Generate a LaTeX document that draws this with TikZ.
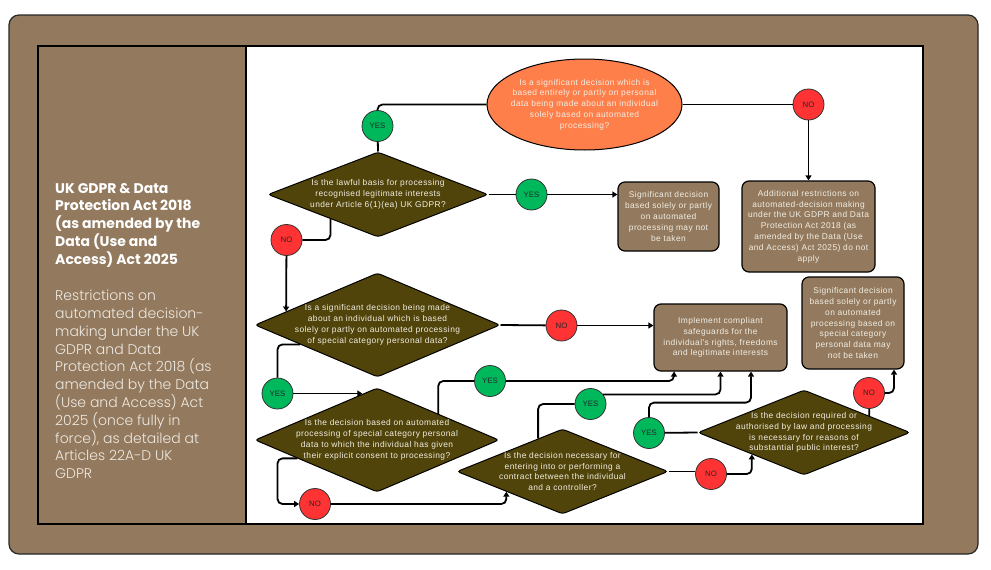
\documentclass[tikz,border=0pt]{standalone}
\usepackage{fontspec}
\usetikzlibrary{shapes.geometric,arrows.meta,calc}
\setmainfont{Liberation Sans}
\newfontfamily\chartfont[LetterSpace=5]{Liberation Sans}
\newfontfamily\circfont{Liberation Sans}
\newfontfamily\titlefont{Poppins}
\newfontfamily\bodyfont{Poppins Light}
\definecolor{framebrown}{RGB}{147,122,94}
\definecolor{olivefill}{RGB}{80,68,10}
\definecolor{coralfill}{RGB}{255,127,75}
\definecolor{yesgreen}{RGB}{0,184,92}
\definecolor{nored}{RGB}{255,51,51}
\definecolor{paletext}{RGB}{242,238,228}
\definecolor{bodytext}{RGB}{238,233,226}
\tikzset{
  conn/.style={line width=1.8pt, rounded corners=5pt, draw=black},
  arr/.style={conn, -{Triangle[length=5pt,width=6pt]}},
  txt/.style={font=\chartfont\fontsize{8.4}{10.8}\selectfont, text=paletext, align=center, inner sep=0pt},
  dia/.style={diamond, draw=black, line width=1pt, fill=olivefill, inner sep=0pt, rounded corners=3pt},
  boxnode/.style={rectangle, draw=black, line width=1.2pt, fill=framebrown, rounded corners=7pt, txt},
  yesnode/.style={circle, draw=black!80, line width=0.8pt, fill=yesgreen, minimum size=31pt, inner sep=0pt, font=\circfont\fontsize{7.8}{8}\selectfont, text=black!85},
  nonode/.style={yesnode, fill=nored},
}
\begin{document}
\begin{tikzpicture}[x=1pt,y=-1pt]
\useasboundingbox (0,0) rectangle (991,570);
% frames
\draw[fill=framebrown, draw=black!85, line width=1.2pt, rounded corners=10pt] (9,15) rectangle (978,554);
\fill[white] (38,46) rectangle (923,524);
\fill[framebrown] (38,46) rectangle (246,524);
\draw[line width=2.5pt] (38,46) rectangle (923,524);
\draw[line width=1.8pt] (246,46) -- (246,524);
% left panel
\node[anchor=north west, inner sep=0pt, align=left, text=white, font=\titlefont\bfseries\fontsize{14}{17.75}\selectfont] (title) at (55,183) {UK GDPR \& Data\\Protection Act 2018\\(as amended by the\\Data (Use and\\Access) Act 2025};
\node[anchor=north west, inner sep=0pt, align=left, text=bodytext, font=\bodyfont\fontsize{14}{17.8}\selectfont] (body) at (55,290) {Restrictions on\\automated decision-\\making under the UK\\GDPR and Data\\Protection Act 2018 (as\\amended by the Data\\(Use and Access) Act\\2025 (once fully in\\force), as detailed at\\Articles 22A-D UK\\GDPR};
% chart nodes
\node[ellipse, draw=black, line width=1pt, fill=coralfill, minimum width=195pt, minimum height=91pt, inner sep=0pt,
  label={[txt]center:{Is a significant decision which is\\based entirely or partly on personal\\data being made about an individual\\solely based on automated\\processing?}}] (e) at (584.5,104.5) {};
\node[yesnode] (y1) at (377.5,126) {YES};
\node[dia, minimum width=220pt, minimum height=85pt,
  label={[txt]center:{Is the lawful basis for processing\\recognised legitimate interests\\under Article 6(1)(ea) UK GDPR?}}] (d1) at (378,194.5) {};
\node[yesnode] (y2) at (531.5,194.5) {YES};
\node[boxnode, minimum width=101pt, minimum height=69pt] (b1) at (668.5,216.5) {Significant decision\\based solely or partly\\on automated\\processing may not\\be taken};
\node[nonode] (n1) at (808.5,104.5) {NO};
\node[boxnode, minimum width=133pt, minimum height=91pt] (b2) at (808.5,226.5) {Additional restrictions on\\automated-decision making\\under the UK GDPR and Data\\Protection Act 2018 (as\\amended by the Data (Use\\and Access) Act 2025) do not\\apply};
\node[nonode] (n2) at (286.5,240) {NO};
\node[dia, minimum width=245pt, minimum height=104pt,
  label={[txt]center:{Is a significant decision being made\\about an individual which is based\\solely or partly on automated processing\\of special category personal data?}}] (d2) at (377.5,325) {};
\node[nonode] (n3) at (561.5,325.5) {NO};
\node[boxnode, minimum width=133pt, minimum height=67pt] (b3) at (720.5,337.5) {Implement compliant\\safeguards for the\\individual's rights, freedoms\\and legitimate interests};
\node[boxnode, minimum width=102pt, minimum height=92pt] (b4) at (853,323) {Significant decision\\based solely or partly\\on automated\\processing based on\\special category\\personal data may\\not be taken};
\node[yesnode] (y3) at (277.5,393.5) {YES};
\node[dia, minimum width=244pt, minimum height=104pt,
  label={[txt]center:{Is the decision based on automated\\processing of special category personal\\data to which the individual has given\\their explicit consent to processing?}}] (d3) at (377,440) {};
\node[yesnode] (y4) at (490,381) {YES};
\node[nonode] (n4) at (315,504) {NO};
\node[dia, minimum width=211pt, minimum height=85pt,
  label={[txt]center:{Is the decision necessary for\\entering into or performing a\\contract between the individual\\and a controller?}}] (d4) at (562.5,471.5) {};
\node[yesnode] (y5) at (590.5,404) {YES};
\node[nonode] (n5) at (711,474) {NO};
\node[dia, minimum width=212pt, minimum height=85pt,
  label={[txt]center:{Is the decision required or\\authorised by law and processing\\is necessary for reasons of\\substantial public interest?}}] (d5) at (804,432.5) {};
\node[yesnode] (y6) at (649,433) {YES};
\node[nonode] (n6) at (869,393) {NO};
% helper coordinates on edges
\coordinate (d1n) at ($(d1.west)!0.57!(d1.south)$);
\coordinate (d2in) at ($(d2.west)!0.257!(d2.north)$);
\coordinate (d2y) at ($(d2.west)!0.37!(d2.south)$);
\coordinate (d3in) at ($(d3.west)!0.88!(d3.north)$);
\coordinate (d3y) at ($(d3.north)!0.5!(d3.east)$);
\coordinate (b3a) at ($(b3.south)+(-46.5,0)$);
\coordinate (d3n) at ($(d3.west)!0.35!(d3.south)$);
\coordinate (d4in) at ($(d4.west)!0.47!(d4.south)$);
\coordinate (d4y) at ($(d4.west)!0.77!(d4.north)$);
\coordinate (b3c) at ($(b3.south)+(30.5,0)$);
\coordinate (b3cbend) at ($(b3c)+(0,31)$);
\coordinate (d5in) at ($(d5.west)!0.51!(d5.south)$);
\coordinate (d5n) at ($(d5.north)!0.613!(d5.east)$);
\coordinate (b4a) at ($(b4.south)+(41,0)$);
% connectors
\draw[conn] (e.west) -| (y1);
\draw[conn] (y1) -- (d1.north);
\draw[conn] (d1.east) -- (y2);
\draw[arr] (y2) -- (y2 -| b1.west);
\draw[conn] (e.east) -- (n1);
\draw[arr] (n1) -- (b2.north);
\draw[conn] (d1n) |- (n2);
\draw[arr] (n2) -- (d2in);
\draw[conn] (d2.east) -- (n3);
\draw[arr] (n3) -- (n3 -| b3.west);
\draw[conn] (d2y) -| (y3);
\draw[arr] (y3) -- (y3 -| d3in);
\draw[conn] (d3y) |- (y4);
\draw[arr] (y4) -| (b3a);
\draw[arr] (d3n) -| (y3 |- n4) -- (n4);
\draw[arr] (n4) -| (d4in);
\draw[conn] (d4y) |- (y5);
\draw[arr] (y5.37) -| (b3.south);
\draw[conn] (d4.east) -- (d4.east -| n5.west);
\draw[arr] (n5) -| (d5in);
\draw[conn] (d5.west) -- (y6);
\draw[arr] (y6) |- (b3cbend) -- (b3c);
\draw[conn] (d5n) -- (n6);
\draw[arr] (n6) -| (b4a);
\end{tikzpicture}
\end{document}
